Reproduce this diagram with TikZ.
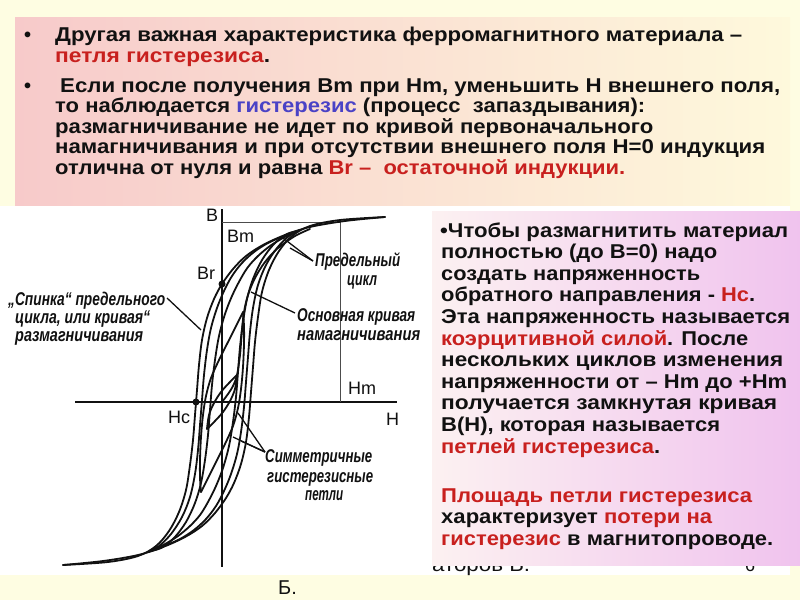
\documentclass[tikz,border=0pt]{standalone}
\usepackage{fontspec}
\setmainfont{Liberation Sans}
\usepackage{graphicx}
\definecolor{bgc}{HTML}{FEFDE2}
\definecolor{topl}{HTML}{F7CACA}
\definecolor{topr}{HTML}{FEF9DC}
\definecolor{rbl}{HTML}{FCF1F1}
\definecolor{rbr}{HTML}{F0C3EE}
\definecolor{tred}{HTML}{C8201E}
\definecolor{tblue}{HTML}{4A42C6}
\definecolor{ink}{HTML}{111111}
\newcommand\fitw[2]{\resizebox{#1pt}{\height}{#2}}
\newcommand\rd[1]{\textcolor{tred}{#1}}
\newcommand\bl[1]{\textcolor{tblue}{#1}}
\newcommand\hloop[2]{%
  \draw[crv] plot[smooth,tension=0.55] coordinates {#2};
  \draw[crv,rotate around={180:#1}] plot[smooth,tension=0.55] coordinates {#2};}
\begin{document}
\begin{tikzpicture}[x=1pt,y=-1pt,
  crv/.style={draw=ink,line width=1.8pt,line cap=round,line join=round},
  axl/.style={draw=ink,line width=1.4pt},
  fine/.style={draw=ink!75,line width=0.7pt},
  ptr/.style={draw=ink,line width=1.3pt},
  txt/.style={inner sep=0pt,anchor=base west,text=ink,font=\bfseries\fontsize{20}{21}\selectfont},
  lab/.style={inner sep=0pt,anchor=base west,text=ink,font=\fontsize{18}{18}\selectfont},
  hnd/.style={inner sep=0pt,anchor=base west,text=ink,font=\bfseries\itshape\fontsize{18.5}{18}\selectfont}]
\useasboundingbox (0,0) rectangle (800,600);
\fill[bgc] (0,0) rectangle (800,600);
% top box
\shade[left color=topl,right color=topr] (15,17) rectangle (790,205);
\node[txt] (b1) at (24,41) {•};
\node[txt] (t1) at (55,41) {\fitw{687}{Другая важная характеристика ферромагнитного материала –}};
\node[txt] (t2) at (55,62) {\fitw{215}{\rd{петля гистерезиса}.}};
\node[txt] (b2) at (24,92) {•};
\node[txt] (t3) at (60,92) {\fitw{720}{Если после получения Bm при Hm, уменьшить H внешнего поля,}};
\node[txt] (t4) at (55,112.5) {\fitw{590}{то наблюдается \bl{гистерезис} (процесс\ \ запаздывания):}};
\node[txt] (t5) at (55,133) {\fitw{598}{размагничивание не идет по кривой первоначального}};
\node[txt] (t6) at (55,153.5) {\fitw{710}{намагничивания и при отсутствии внешнего поля H=0 индукция}};
\node[txt] (t7) at (55,174) {\fitw{570}{отлична от нуля и равна \rd{Br –\ \ остаточной индукции.}}};
% graph area
\fill[white] (0,206) rectangle (790,575);
\node[lab] (foot) at (432,571) {\fitw{98}{\fontsize{20}{20}\selectfont аторов Б.}};
\node[lab] (pg) at (745,571) {6};
\node[lab,font=\fontsize{20}{20}\selectfont] (bb) at (278,594) {Б.};
% axes
\coordinate (bax0) at (222,209); \coordinate (bax1) at (222,567);
\coordinate (hax0) at (75,402); \coordinate (hax1) at (397,402);
\draw[axl] (bax0) -- (bax1);
\draw[axl] (hax0) -- (hax1);
\coordinate (bm0) at (222,222); \coordinate (bm1) at (340,222); \coordinate (hm1) at (340,402);
\draw[fine] (bm0) -- (bm1) -- (hm1);
% loops
\hloop{(224,391)}{(385,217) (345,221) (310,227) (285,235) (263,245) (246,256) (233,269) (222,284) (214,299) (207,318) (202,340) (199,365) (197,390) (195,415) (193,440) (190,465) (186,490) (179,512) (169,531) (156,546) (138,556) (108,562) (63,565)}
\hloop{(224,391)}{(300,230) (284,236) (268,243) (254,252) (242,263) (232,276) (224,291) (217,308) (211,328) (207,350) (204,375) (202,400) (200,425) (198,450) (195,474) (190,497) (182,517) (171,534) (159,546) (148,552)}
\hloop{(224,391)}{(298,231) (283,238) (270,246) (258,256) (248,267) (240,280) (232,296) (225,314) (219,336) (215,360) (212,385) (210,410) (208,435) (205,460) (201,483) (195,503) (186,522) (174,538) (161,548) (150,551)}
\hloop{(222,402)}{(243,312) (236,326) (228,342) (219,360) (211,378) (206,396) (203,415) (201,437) (200,460) (200,478) (201,492)}
\hloop{(222,402)}{(237,375) (229,383) (221,392) (214,403) (209,415) (207,429)}
\draw[crv] plot[smooth,tension=0.55] coordinates {(222,402) (228,394) (233,386) (237,375) (240,355) (242,330) (244,312) (248,295) (255,278) (265,262) (278,248) (295,236) (310,229)};
% points
\fill[ink] (222,284) circle (3.5);
\fill[ink] (196,402) circle (3.5);
% axis labels
\node[lab] (lB) at (206,221) {B};
\node[lab] (lBm) at (227,242) {Bm};
\node[lab] (lBr) at (197,279) {Br};
\node[lab] (lHm) at (348,394) {Hm};
\node[lab] (lH) at (386,425) {H};
\node[lab] (lHc) at (168,423) {Hc};
% hand labels
\node[hnd] (p1) at (315,266) {\fitw{85}{Предельный}};
\node[hnd] (p2) at (347,285) {\fitw{30}{цикл}};
\node[hnd] (o1) at (297,321) {\fitw{118}{Основная кривая}};
\node[hnd] (o2) at (297,340) {\fitw{123}{намагничивания}};
\node[hnd] (s1) at (8,305) {\fitw{157}{„Спинка“ предельного}};
\node[hnd] (s2) at (15,323) {\fitw{135}{цикла, или кривая“}};
\node[hnd] (s3) at (15,341) {\fitw{128}{размагничивания}};
\node[hnd] (m1) at (265,462) {\fitw{107}{Симметричные}};
\node[hnd] (m2) at (267,482) {\fitw{106}{гистерезисные}};
\node[hnd] (m3) at (305,500) {\fitw{38}{петли}};
% pointers
\coordinate (pc0) at (313,261); \coordinate (pc1) at (283,238); \coordinate (pc2) at (290,248);
\draw[ptr] (pc0) -- (pc1); \draw[ptr] (pc0) -- (pc2);
\coordinate (po0) at (295,313); \coordinate (po1) at (251,292);
\draw[ptr] (po0) -- (po1);
\coordinate (ps0) at (167,298); \coordinate (ps1) at (201,330);
\draw[ptr] (ps0) -- (ps1);
\coordinate (pm0) at (265,452); \coordinate (pm1) at (238,413); \coordinate (pm2) at (241,441); \coordinate (pm3) at (233,437);
\draw[ptr] (pm0) -- (pm1); \draw[ptr] (pm0) -- (pm2); \draw[ptr] (pm0) -- (pm3);
% right box
\shade[left color=rbl,right color=rbr] (432,211) rectangle (800,565);
\node[txt] (r1) at (440,237) {\fitw{348}{•Чтобы размагнитить материал}};
\node[txt] (r2) at (441,258.6) {\fitw{276}{полностью (до B=0) надо}};
\node[txt] (r3) at (441,280.2) {\fitw{259}{создать напряженность}};
\node[txt] (r4) at (441,301.8) {\fitw{314}{обратного направления - \rd{Hc}.}};
\node[txt] (r5) at (441,323.4) {\fitw{349}{Эта напряженность называется}};
\node[txt] (r6) at (441,345) {\fitw{307}{\rd{коэрцитивной силой}. После}};
\node[txt] (r7) at (441,366.6) {\fitw{342}{нескольких циклов изменения}};
\node[txt] (r8) at (441,388.2) {\fitw{346}{напряженности от – Hm до +Hm}};
\node[txt] (r9) at (441,409.8) {\fitw{336}{получается замкнутая кривая}};
\node[txt] (r10) at (441,431.4) {\fitw{279}{B(H), которая называется}};
\node[txt] (r11) at (441,453) {\fitw{219}{\rd{петлей гистерезиса}.}};
\node[txt] (r12) at (441,502.2) {\fitw{311}{\rd{Площадь петли гистерезиса}}};
\node[txt] (r13) at (441,523.8) {\fitw{271}{характеризует \rd{потери на}}};
\node[txt] (r14) at (441,545.4) {\fitw{332}{\rd{гистерезис} в магнитопроводе.}};
\end{tikzpicture}
\end{document}
